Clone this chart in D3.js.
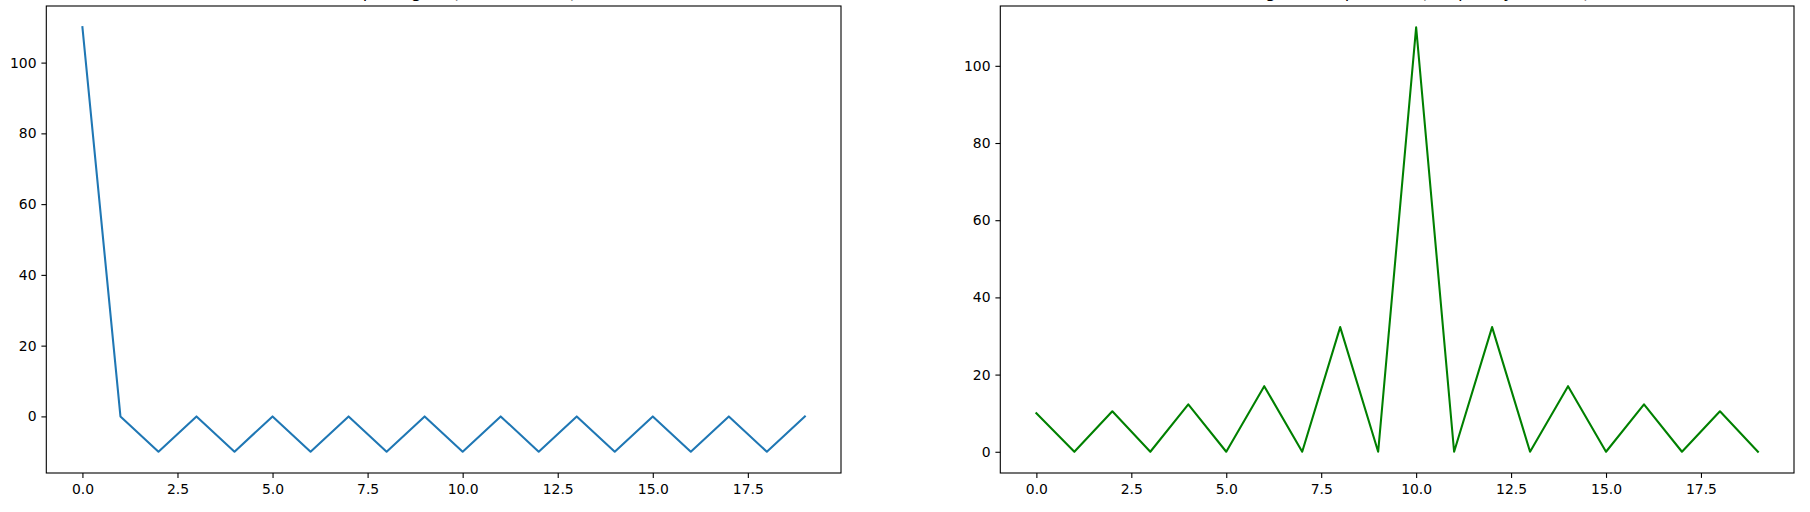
<!DOCTYPE html>
<html>
<head>
<meta charset="utf-8">
<script src="https://cdn.jsdelivr.net/npm/d3@7"></script>
<style>
  html, body { margin: 0; padding: 0; background: #fff; }
  svg { display: block; }
  text { font-family: "DejaVu Sans", sans-serif; }
</style>
</head>
<body>
<svg id="chart" width="1810" height="512"></svg>
<script>
// ---- data ----
const indices = [0,1,2,3,4,5,6,7,8,9,10,11,12,13,14,15,16,17,18,19];
const timeSignal = [110,0,-10,0,-10,0,-10,0,-10,0,-10,0,-10,0,-10,0,-10,0,-10,0];
const spectrum = [10,0,10.5,0,12.3,0,17,0,32.3,0,110,0,32.3,0,17,0,12.3,0,10.5,0];
const xTicks = [0,2.5,5,7.5,10,12.5,15,17.5];
const yTicks = [0,20,40,60,80,100];
const titles = ["Input Signal (Time Domain)", "Magnitude Spectrum (Frequency Domain)"];
const colors = ["#1f77b4", "#008000"];

// ---- layout ----
const panels = [
  { left: 46.3, right: 841, top: 6, bottom: 473, values: timeSignal, color: colors[0], title: titles[0] },
  { left: 1000.3, right: 1794, top: 6, bottom: 473, values: spectrum, color: colors[1], title: titles[1] }
];

const svg = d3.select("#chart");
const fontSize = 13.9;
const tickLen = 4.9;
const tickPad = 4.9;

function padded(lo, hi) {
  const m = (hi - lo) * 0.05;
  return [lo - m, hi + m];
}

panels.forEach(p => {
  const x = d3.scaleLinear().domain(padded(d3.min(indices), d3.max(indices))).range([p.left, p.right]);
  const y = d3.scaleLinear().domain(padded(d3.min(p.values), d3.max(p.values))).range([p.bottom, p.top]);

  const g = svg.append("g");

  // line
  const line = d3.line().x((d, i) => x(indices[i])).y(d => y(d));
  g.append("path")
    .datum(p.values)
    .attr("fill", "none")
    .attr("stroke", p.color)
    .attr("stroke-width", 2.08)
    .attr("stroke-linejoin", "round")
    .attr("stroke-linecap", "square")
    .attr("d", line);

  // x axis
  const xAxis = d3.axisBottom(x).tickValues(xTicks).tickFormat(d3.format(".1f"))
    .tickSize(tickLen).tickPadding(tickPad).tickSizeOuter(0);
  const gx = g.append("g").attr("transform", `translate(0,${p.bottom})`).call(xAxis);
  gx.select(".domain").remove();
  gx.selectAll(".tick line").attr("stroke", "#000").attr("stroke-width", 1.1);
  gx.selectAll(".tick text").attr("fill", "#000").attr("font-size", fontSize)
    .attr("font-family", "DejaVu Sans, sans-serif").attr("dy", "0.84em");

  // y axis
  const yAxis = d3.axisLeft(y).tickValues(yTicks).tickFormat(d3.format("d"))
    .tickSize(tickLen).tickPadding(tickPad).tickSizeOuter(0);
  const gy = g.append("g").attr("transform", `translate(${p.left},0)`).call(yAxis);
  gy.select(".domain").remove();
  gy.selectAll(".tick line").attr("stroke", "#000").attr("stroke-width", 1.1);
  gy.selectAll(".tick text").attr("fill", "#000").attr("font-size", fontSize)
    .attr("font-family", "DejaVu Sans, sans-serif");

  // frame
  g.append("rect")
    .attr("x", p.left).attr("y", p.top)
    .attr("width", p.right - p.left).attr("height", p.bottom - p.top)
    .attr("fill", "none").attr("stroke", "#000").attr("stroke-width", 1.1);

  // title (mostly cut off above the figure)
  g.append("text")
    .attr("x", (p.left + p.right) / 2 + 18)
    .attr("y", p.top - 8.3)
    .attr("text-anchor", "middle")
    .attr("font-size", 16.7)
    .attr("fill", "#000")
    .text(p.title);
});
</script>
</body>
</html>
